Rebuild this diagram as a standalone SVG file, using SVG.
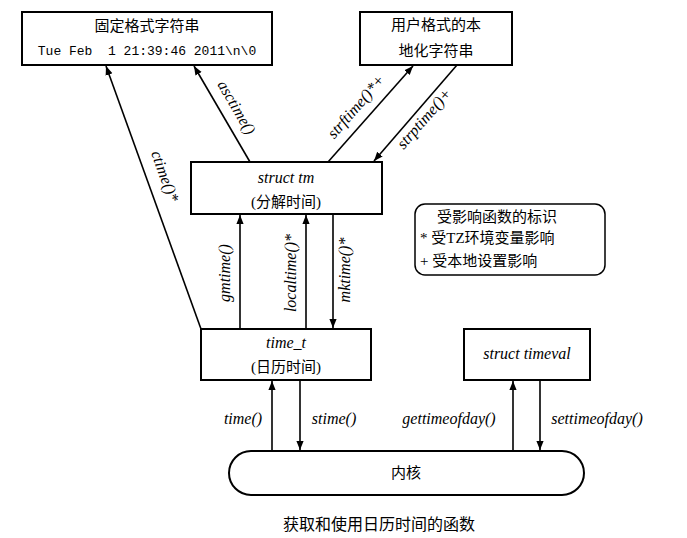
<svg xmlns="http://www.w3.org/2000/svg" width="687" height="538" viewBox="0 0 687 538">
<defs>
<marker id="ah" viewBox="0 0 10 10" refX="10" refY="5" markerWidth="9" markerHeight="9" markerUnits="userSpaceOnUse" orient="auto"><path d="M0,1 L10,5 L0,9 z" fill="#000"/></marker>
<style>
.box{fill:#fff;stroke:#000;stroke-width:2}
.cn{font-family:"Liberation Serif","Noto Sans CJK SC",serif;font-size:15px;fill:#000;text-anchor:middle}
.st{text-anchor:start}
.it{font-family:"Liberation Serif",serif;font-style:italic;font-size:16px;fill:#000;text-anchor:middle}
.mono{font-family:"Liberation Mono",monospace;font-size:13px;fill:#000;text-anchor:middle}
.ln{stroke:#000;stroke-width:1.6;fill:none;marker-end:url(#ah)}
</style>
</defs>
<rect width="687" height="538" fill="#fff"/>
<g id="fixed"><rect class="box" x="22" y="12" width="250" height="53"/><text class="cn" x="147" y="31">固定格式字符串</text><text class="mono" x="147" y="55" xml:space="preserve">Tue Feb  1 21:39:46 2011\n\0</text></g>
<g id="userfmt"><rect class="box" x="360" y="12" width="152" height="53"/><text class="cn" x="436" y="30">用户格式的本</text><text class="cn" x="436" y="56">地化字符串</text></g>
<g id="tm"><rect class="box" x="191" y="162" width="191" height="52"/><text class="it" x="286" y="183">struct tm</text><text class="cn" x="286" y="207">(分解时间)</text></g>
<g id="legend"><rect x="415" y="204" width="190" height="71" rx="10" fill="#fff" stroke="#000" stroke-width="1.5"/><text class="cn" x="497" y="222">受影响函数的标识</text><text class="cn st" x="420" y="243">* 受TZ环境变量影响</text><text class="cn st" x="420" y="266">+ 受本地设置影响</text></g>
<g id="timet"><rect class="box" x="201" y="329" width="170" height="51"/><text class="it" x="286" y="348">time_t</text><text class="cn" x="286" y="372">(日历时间)</text></g>
<g id="timeval"><rect class="box" x="464" y="329" width="126" height="51"/><text class="it" x="527" y="359">struct timeval</text></g>
<g id="kernel"><rect class="box" x="229" y="451" width="355" height="44" rx="22"/><text class="cn" x="406" y="478">内核</text></g>
<g id="connectors">
<line class="ln" x1="201" y1="329" x2="106" y2="66"/>
<line class="ln" x1="250" y1="162" x2="194" y2="66"/>
<line class="ln" x1="328" y1="162" x2="413" y2="66"/>
<line class="ln" x1="457" y1="65" x2="374" y2="161"/>
<line class="ln" x1="240" y1="329" x2="240" y2="215"/>
<line class="ln" x1="306" y1="329" x2="306" y2="215"/>
<line class="ln" x1="333" y1="214" x2="333" y2="328"/>
<line class="ln" x1="272" y1="451" x2="272" y2="381"/>
<line class="ln" x1="300" y1="380" x2="300" y2="450"/>
<line class="ln" x1="513" y1="451" x2="513" y2="381"/>
<line class="ln" x1="540" y1="380" x2="540" y2="450"/>
</g>
<g id="labels">
<text class="it" transform="translate(160,178) rotate(70)">ctime()*</text>
<text class="it" transform="translate(232,110) rotate(60)">asctime()</text>
<text class="it" transform="translate(360,110) rotate(-49)">strftime()*+</text>
<text class="it" transform="translate(428,122) rotate(-49)">strptime()+</text>
<text class="it" transform="translate(230,273) rotate(-90)">gmtime()</text>
<text class="it" transform="translate(296,273) rotate(-90)">localtime()*</text>
<text class="it" transform="translate(350,270) rotate(-90)">mktime()*</text>
<text class="it" x="243" y="424">time()</text>
<text class="it" x="334" y="424">stime()</text>
<text class="it" x="449" y="424">gettimeofday()</text>
<text class="it" x="597" y="424">settimeofday()</text>
</g>
<text x="379" y="530" font-family="'Noto Sans CJK SC',sans-serif" font-size="16" text-anchor="middle">获取和使用日历时间的函数</text>
</svg>
